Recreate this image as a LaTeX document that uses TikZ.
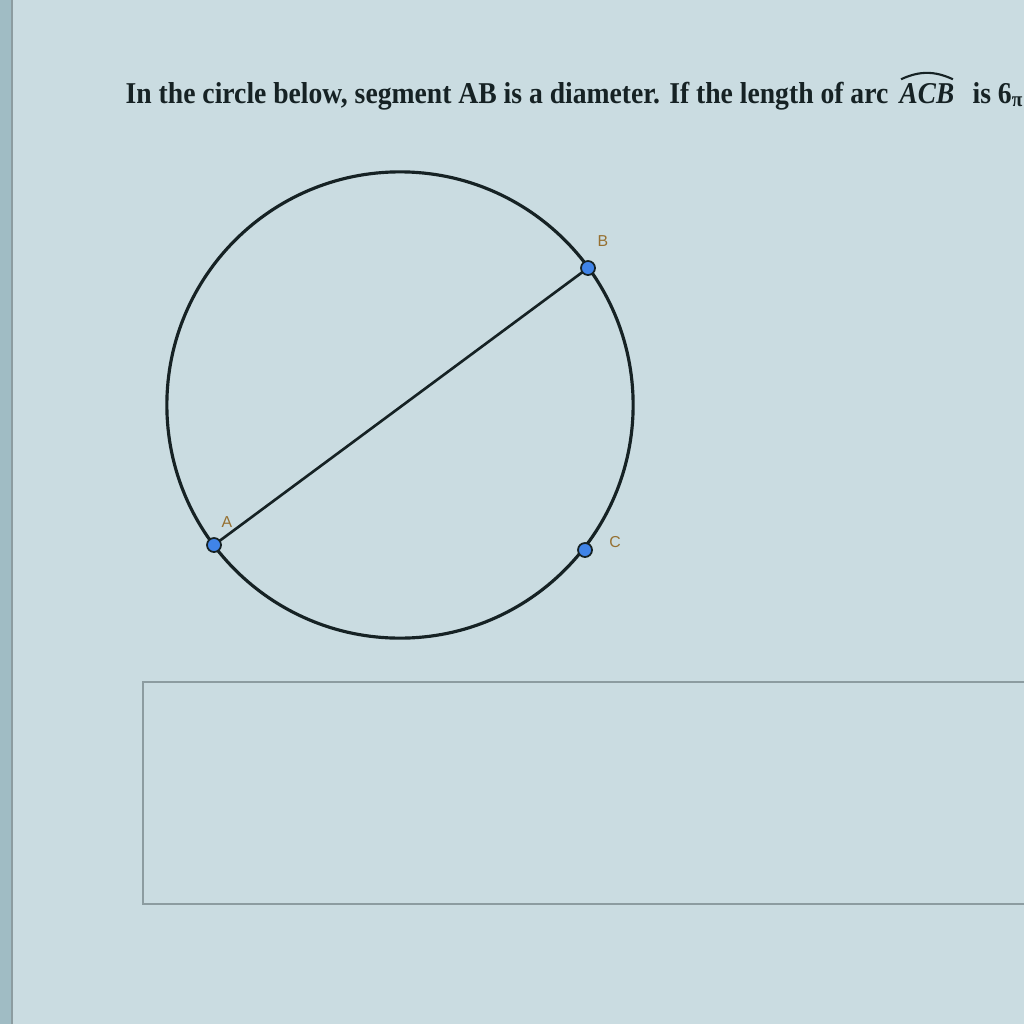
\documentclass[tikz,border=0pt]{standalone}
\usepackage{fontspec}
\setmainfont{Liberation Serif}
\setsansfont{Liberation Sans}
\usetikzlibrary{calc}
\definecolor{screen}{RGB}{202,220,225}
\definecolor{screenedge}{RGB}{160,188,196}
\definecolor{inkdark}{RGB}{22,34,36}
\definecolor{ptblue}{RGB}{64,132,232}
\definecolor{lblbrown}{RGB}{150,112,48}
\definecolor{boxgray}{RGB}{140,156,160}

\begin{document}
\begin{tikzpicture}[x=0.01cm,y=-0.01cm,
    lbl/.style={font=\sffamily\fontsize{4.5}{4.5}\selectfont, text=lblbrown, inner sep=0},
    txt/.style={anchor=base west, inner sep=0, text=inkdark, font=\bfseries\fontsize{8.6}{8.6}\selectfont},
    pt/.style={fill=ptblue, draw=inkdark, line width=0.5pt}]
\useasboundingbox (0,0) rectangle (1024,1024);
\clip (0,0) rectangle (1024,1024);
\fill[screen] (0,0) rectangle (1024,1024);
\fill[screenedge] (0,0) rectangle (12,1024);
\draw[boxgray] (12,0) -- (12,1024);

% question text
\node[txt] (question) at (125,103)
    {\scalebox{0.914}[1]{In the circle below, segment AB is a diameter. If the length of arc}};
\node[txt, font=\bfseries\itshape\fontsize{8.6}{8.6}\selectfont] (arcname) at ($(question.base east)+(10,0)$) {\scalebox{0.9}[1]{ACB}};
\draw[inkdark, line width=0.6pt] ($(arcname.north west)+(2,-3)$) to[bend left=25] ($(arcname.north east)+(-2,-3)$);
\node[txt] (rest) at ($(arcname.base east)+(17,0)$) {\scalebox{0.914}[1]{is 6\raisebox{-0.25ex}{\fontsize{6}{6}\selectfont π}}};

% circle and points
\coordinate (O) at (400,405);
\coordinate (A) at (214,545);
\coordinate (B) at (588,268);
\coordinate (C) at (585,550);
\draw[inkdark, line width=0.9pt] (O) circle (2.33cm);
\draw[inkdark, line width=0.75pt] (A) -- (B);
\foreach \p in {A,B,C}
    \draw[pt] (\p) circle (0.07cm);
\node[lbl] (labelA) at (227,522) {A};
\node[lbl] (labelB) at (603,241) {B};
\node[lbl] (labelC) at (615,542) {C};

% answer box
\draw[boxgray, line width=0.5pt] (143,682) rectangle (1040,904);
\end{tikzpicture}
\end{document}
